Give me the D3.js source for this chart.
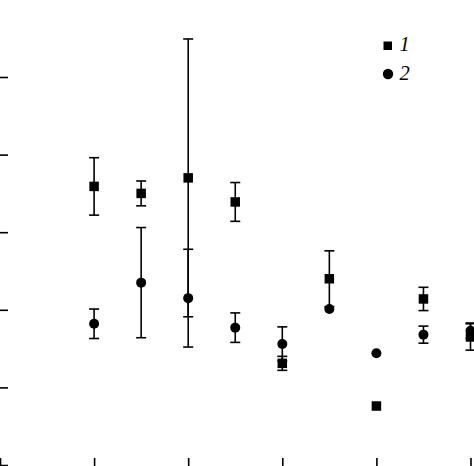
<!DOCTYPE html>
<html>
<head>
<meta charset="utf-8">
<script src="https://cdn.jsdelivr.net/npm/d3@7"></script>
<style>
  html, body { margin: 0; padding: 0; background: #fff; }
  svg { display: block; }
</style>
</head>
<body>
<svg id="chart" width="474" height="466"></svg>
<script>
// ---- data ----
const xValues = [2, 3, 4, 5, 6, 7, 8, 9, 10];
const series1 = [3.59, 3.50, 3.70, 3.39, 1.31, 2.40, 0.76, 2.14, 1.65];
const series1Err = [0.37, 0.16, 1.79, 0.25, 0.09, 0.36, 0, 0.15, 0.17];
const series2 = [1.82, 2.35, 2.15, 1.77, 1.56, 2.01, 1.44, 1.68, 1.73];
const series2Err = [0.19, 0.71, 0.63, 0.19, 0.22, 0, 0, 0.11, 0.10];
const xTicks = [0, 2, 4, 6, 8, 10];
const yTicks = [0, 1, 2, 3, 4, 5];
const legendLabels = ["1", "2"];

const svg = d3.select("#chart");
const x = d3.scaleLinear().domain([0, 10]).range([0, 470.5]);
const y = d3.scaleLinear().domain([0, 5]).range([465, 77]);

// axes (only ticks visible; axis lines lie just outside the frame)
const yAxis = svg.append("g").attr("transform", "translate(-1,0)")
  .call(d3.axisLeft(y).tickValues(yTicks).tickSize(-9).tickFormat(""));
yAxis.select(".domain").remove();
yAxis.selectAll(".tick line").attr("stroke", "#000").attr("stroke-width", 1.6);

const xAxis = svg.append("g").attr("transform", "translate(0,468)")
  .call(d3.axisBottom(x).tickValues(xTicks).tickSize(-10).tickFormat(""));
xAxis.select(".domain").remove();
xAxis.selectAll(".tick line").attr("stroke", "#000").attr("stroke-width", 1.6);

const capW = 5;
function errorBars(vals, errs) {
  const g = svg.append("g").attr("stroke", "#000").attr("stroke-width", 1.6);
  vals.forEach((v, i) => {
    const e = errs[i];
    if (!e) return;
    const cx = x(xValues[i]);
    g.append("line").attr("x1", cx).attr("x2", cx).attr("y1", y(v + e)).attr("y2", y(v - e));
    g.append("line").attr("x1", cx - capW).attr("x2", cx + capW).attr("y1", y(v + e)).attr("y2", y(v + e));
    g.append("line").attr("x1", cx - capW).attr("x2", cx + capW).attr("y1", y(v - e)).attr("y2", y(v - e));
  });
}
errorBars(series1, series1Err);
errorBars(series2, series2Err);

const sq = 9.5;
svg.append("g").selectAll("rect").data(series1).join("rect")
  .attr("x", (d, i) => x(xValues[i]) - sq / 2)
  .attr("y", d => y(d) - sq / 2)
  .attr("width", sq).attr("height", sq).attr("fill", "#000");

svg.append("g").selectAll("circle").data(series2).join("circle")
  .attr("cx", (d, i) => x(xValues[i]))
  .attr("cy", d => y(d))
  .attr("r", 5).attr("fill", "#000");

// legend
const lg = svg.append("g");
lg.append("rect").attr("x", 383.5).attr("y", 41.5).attr("width", 8.5).attr("height", 8.5).attr("fill", "#000");
lg.append("circle").attr("cx", 388).attr("cy", 74).attr("r", 5.2).attr("fill", "#000");
lg.selectAll("text").data(legendLabels).join("text")
  .attr("x", 399.5).attr("y", (d, i) => 50.5 + i * 29)
  .attr("font-family", "Liberation Serif, serif")
  .attr("font-style", "italic")
  .attr("font-size", 20.5)
  .attr("fill", "#000")
  .text(d => d);
</script>
</body>
</html>
